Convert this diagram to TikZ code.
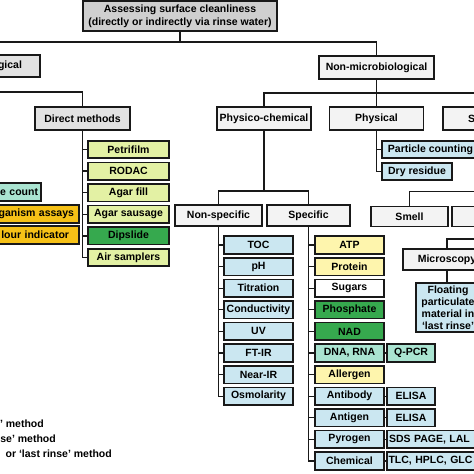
\documentclass[tikz,border=0pt]{standalone}
\usepackage{fontspec}
\setmainfont{Liberation Sans}
\usetikzlibrary{calc,positioning}
\definecolor{boxgray}{HTML}{CFCFCF}
\definecolor{midgray}{HTML}{E2E2E2}
\definecolor{palegray}{HTML}{F3F3F3}
\definecolor{limefill}{HTML}{E3F1A4}
\definecolor{greenfill}{HTML}{36A94E}
\definecolor{mintfill}{HTML}{AAE4D1}
\definecolor{orangefill}{HTML}{F6C117}
\definecolor{creamfill}{HTML}{FEF5AD}
\definecolor{bluefill}{HTML}{CBE7F1}
\tikzset{
  tree box/.style={draw=black!90,line width=1.6pt,outer sep=0pt,inner sep=1pt,
    align=center,font=\bfseries\fontsize{10.5}{13}\selectfont},
  level box/.style={tree box,fill=palegray,minimum height=23pt},
  leaf box/.style={tree box,minimum height=17.5pt},
  direct leaf/.style={leaf box,fill=limefill,minimum width=81pt},
  test leaf/.style={leaf box,fill=bluefill,minimum width=69pt},
  assay leaf/.style={leaf box,fill=bluefill,minimum width=48pt},
  tree line/.style={line width=1.3pt,draw=black!90},
  legend text/.style={font=\bfseries\fontsize{10.5}{13}\selectfont,inner sep=0pt,anchor=east},
}
\begin{document}
\begin{tikzpicture}[x=1pt,y=-1pt,node distance=4.1pt]
  \useasboundingbox (0,0) rectangle (474,474);
  \clip (0,0) rectangle (474,474);
  % top levels
  \node[tree box,fill=boxgray,minimum width=194pt,minimum height=30pt] (top) at (180,16)
    {Assessing surface cleanliness\\(directly or indirectly via rinse water)};
  \node[level box,fill=midgray,anchor=east,text width=60pt,align=right,inner xsep=18pt,
    minimum height=22pt] (micro) at (40,66) {gical};
  \node[level box,minimum width=115pt] (nonmicro) at (376.5,67.5) {Non-microbiological};
  \node[level box,fill=midgray,minimum width=95pt] (direct) at (82.5,118.5) {Direct methods};
  \node[level box,minimum width=94pt] (physchem) at (264,118.5) {Physico-chemical};
  \node[level box,minimum width=94pt] (physical) at (376.5,118.5) {Physical};
  \node[level box,anchor=west,text width=60pt,align=left,inner xsep=25pt] (sensory)
    at (443,118.5) {S};
  % direct methods
  \node[direct leaf] (petri) at (128.5,149.5) {Petrifilm};
  \node[direct leaf,below=of petri] (rodac) {RODAC};
  \node[direct leaf,below=of rodac] (agarfill) {Agar fill};
  \node[direct leaf,below=of agarfill] (sausage) {Agar sausage};
  \node[direct leaf,fill=greenfill,below=of sausage] (dipslide) {Dipslide};
  \node[direct leaf,below=of dipslide] (airsampler) {Air samplers};
  % left column
  \node[leaf box,fill=mintfill,anchor=east,text width=50pt,align=right,inner xsep=3pt,
    minimum height=18pt] (platecount) at (41,192) {e count};
  \node[leaf box,fill=orangefill,anchor=east,text width=80pt,align=right,inner xsep=5pt,
    minimum height=18pt] (assays) at (79,214) {ganism assays};
  \node[leaf box,fill=orangefill,anchor=east,text width=80pt,align=right,inner xsep=10pt,
    minimum height=18pt] (colour) at (79,235) {lour indicator};
  % physical
  \node[leaf box,fill=bluefill,minimum width=97pt,anchor=west] (particle) at (382,149.5)
    {Particle counting};
  \node[leaf box,fill=bluefill,minimum width=70pt,anchor=west] (dryres) at (382,171.5)
    {Dry residue};
  % physico-chemical
  \node[level box,minimum width=87pt,minimum height=21pt] (nonspec) at (218.5,215.5) {Non-specific};
  \node[level box,minimum width=83pt,minimum height=21pt] (spec) at (308.5,215.5) {Specific};
  \node[test leaf] (toc) at (258.5,245) {TOC};
  \node[test leaf,below=of toc] (ph) {pH};
  \node[test leaf,below=of ph] (titration) {Titration};
  \node[test leaf,below=of titration] (conduct) {Conductivity};
  \node[test leaf,below=of conduct] (uv) {UV};
  \node[test leaf,below=of uv] (ftir) {FT-IR};
  \node[test leaf,below=of ftir] (nearir) {Near-IR};
  \node[test leaf,below=of nearir] (osmo) {Osmolarity};
  \node[test leaf,fill=creamfill] (atp) at (349.5,245) {ATP};
  \node[test leaf,fill=creamfill,below=of atp] (protein) {Protein};
  \node[test leaf,fill=white,below=of protein] (sugars) {Sugars};
  \node[test leaf,fill=greenfill,below=of sugars] (phosphate) {Phosphate};
  \node[test leaf,fill=greenfill,below=of phosphate] (nad) {NAD};
  \node[test leaf,fill=mintfill,below=of nad] (dna) {DNA, RNA};
  \node[test leaf,fill=creamfill,below=of dna] (allergen) {Allergen};
  \node[test leaf,below=of allergen] (antibody) {Antibody};
  \node[test leaf,below=of antibody] (antigen) {Antigen};
  \node[test leaf,below=of antigen] (pyrogen) {Pyrogen};
  \node[test leaf,below=of pyrogen] (chemical) {Chemical};
  \node[assay leaf,fill=mintfill,right=3pt of dna] (qpcr) {Q-PCR};
  \node[assay leaf,right=3pt of antibody] (elisaab) {ELISA};
  \node[assay leaf,right=3pt of antigen] (elisaag) {ELISA};
  \node[assay leaf,right=3pt of pyrogen,text width=88pt,align=left,inner xsep=2pt]
    (sdspage) {SDS PAGE, LAL};
  \node[assay leaf,right=3pt of chemical,text width=88pt,align=left,inner xsep=1.5pt]
    (tlc) {TLC, HPLC, GLC};
  % sensory
  \node[level box,minimum width=77pt,minimum height=20pt] (smell) at (409.5,216.5) {Smell};
  \node[level box,minimum width=77pt,minimum height=20pt,right=4pt of smell] (visual) {};
  \node[level box,minimum width=88pt,minimum height=21pt] (microscopy) at (447,259.5)
    {Microscopy};
  \node[leaf box,fill=bluefill,minimum width=64pt,minimum height=49pt,
    font=\bfseries\fontsize{10.5}{12}\selectfont] (floating) at (448,307.5)
    {Floating\\particulate\\material in\\`last rinse'};
  % legend
  \node[legend text] (legdirect) at (44,424) {' method};
  \node[legend text] (legrinse) at (56,439) {se' method};
  \node[legend text] (legboth) at (112,454) {or `last rinse' method};
  % connectors
  \draw[tree line] (top.south) -- ++(0,11) coordinate (topjoin);
  \draw[tree line] (micro.north) |- (topjoin) -| (nonmicro.north);
  \draw[tree line] (micro.south) |- ($(direct.north)+(0,-15)$) -- (direct.north);
  \draw[tree line] (direct.south) |- (airsampler.west);
  \draw[tree line] (direct.south |- petri.west) -- (petri.west)
    (direct.south |- rodac.west) -- (rodac.west)
    (direct.south |- agarfill.west) -- (agarfill.west)
    (direct.south |- sausage.west) -- (sausage.west)
    (direct.south |- dipslide.west) -- (dipslide.west);
  \draw[tree line] (nonmicro.south) -- (physical.north);
  \draw[tree line] (physchem.north) |- ($(nonmicro.south)!0.5!(physical.north)$)
    -| (sensory.north);
  \draw[tree line] (physical.south) |- (dryres.west);
  \draw[tree line] (physical.south |- particle.west) -- (particle.west);
  \draw[tree line] (physchem.south) -- ++(0,61) coordinate (pcjoin);
  \draw[tree line] (nonspec.north) |- (pcjoin) -| (spec.north);
  \draw[tree line] (nonspec.south) |- (osmo.west);
  \draw[tree line] (nonspec.south |- toc.west) -- (toc.west)
    (nonspec.south |- ph.west) -- (ph.west)
    (nonspec.south |- titration.west) -- (titration.west)
    (nonspec.south |- conduct.west) -- (conduct.west)
    (nonspec.south |- uv.west) -- (uv.west)
    (nonspec.south |- ftir.west) -- (ftir.west)
    (nonspec.south |- nearir.west) -- (nearir.west);
  \draw[tree line] (spec.south) |- (chemical.west);
  \draw[tree line] (spec.south |- atp.west) -- (atp.west)
    (spec.south |- protein.west) -- (protein.west)
    (spec.south |- sugars.west) -- (sugars.west)
    (spec.south |- phosphate.west) -- (phosphate.west)
    (spec.south |- nad.west) -- (nad.west)
    (spec.south |- dna.west) -- (dna.west)
    (spec.south |- allergen.west) -- (allergen.west)
    (spec.south |- antibody.west) -- (antibody.west)
    (spec.south |- antigen.west) -- (antigen.west)
    (spec.south |- pyrogen.west) -- (pyrogen.west);
  \draw[tree line] (dna.east) -- (qpcr.west);
  \draw[tree line] (antibody.east) -- (elisaab.west);
  \draw[tree line] (antigen.east) -- (elisaag.west);
  \draw[tree line] (pyrogen.east) -- (sdspage.west);
  \draw[tree line] (chemical.east) -- (tlc.west);
  \draw[tree line] (sensory.south) |- ($(smell.north)+(0,-15)$) -- (smell.north);
  \draw[tree line] (visual.north) -- ++(0,-15);
  \draw[tree line] (visual.south) |- ($(microscopy.north)+(0,-10)$) -- (microscopy.north);
  \draw[tree line] (microscopy.south) -- (microscopy.south |- floating.north);
\end{tikzpicture}
\end{document}
